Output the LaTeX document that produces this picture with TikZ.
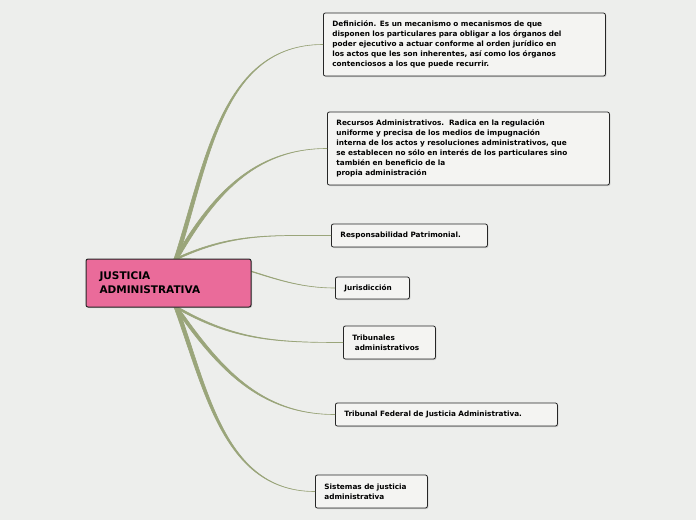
\documentclass[tikz,border=0pt]{standalone}
\usepackage{fontspec}
\setmainfont{DejaVu Sans}
\usetikzlibrary{shadows,calc}
\hyphenpenalty=10000
\exhyphenpenalty=10000
\definecolor{bg}{HTML}{EDEEEC}
\definecolor{br}{HTML}{9AA57A}
\definecolor{pinkc}{HTML}{EA6B9A}
\definecolor{boxf}{HTML}{F4F4F2}
\tikzset{
  box/.style={draw=black!85, line width=0.8pt, fill=boxf, rounded corners=2pt,
    drop shadow={shadow xshift=1pt,shadow yshift=-1pt,opacity=0.35},
    font=\fontsize{7.3}{10}\selectfont\bfseries, align=left, inner xsep=9pt, inner ysep=0pt, anchor=west},
  branch/.style={fill=br, draw=br, line width=0.6pt}
}
\begin{document}
\begin{tikzpicture}[x=1pt,y=-1pt]
\fill[bg] (0,0) rectangle (696,520);
\useasboundingbox (0,0) rectangle (696,520);
\coordinate (ct1) at (176,259);
\coordinate (cb1) at (176,307);
% boxes
\node[box, text width=264pt, minimum height=63pt] (n1) at (323,44.5) {Definición. Es un mecanismo o mecanismos de que\\disponen los particulares para obligar a los órganos del\\poder ejecutivo a actuar conforme al orden jurídico en\\los actos que les son inherentes, así como los órganos\\contenciosos a los que puede recurrir.};
\node[box, text width=264pt, minimum height=73pt] (n2) at (327,148.5) {Recursos Administrativos.\ \ Radica en la regulación\\uniforme y precisa de los medios de impugnación\\interna de los actos y resoluciones administrativos, que\\se establecen no sólo en interés de los particulares sino\\también en beneficio de la\\propia administración};
\node[box, minimum height=23pt, text width=138pt] (n3) at (331,235.5) {Responsabilidad Patrimonial.};
\node[box, minimum height=22pt, text width=56pt] (n4) at (335,288) {Jurisdicción};
\node[box, minimum height=33pt, text width=74pt] (n5) at (343,342.5) {Tribunales\\\ administrativos};
\node[box, minimum height=23pt, text width=204pt] (n6) at (335,414.5) {Tribunal Federal de Justicia Administrativa.};
\node[box, minimum height=33pt, text width=94pt] (n7) at (315,491.5) {Sistemas de justicia\\administrativa};
% branches
\foreach \n/\o in {n1/72,n2/60,n3/25,n4/2} {
  \fill[branch] ($(ct1)+(-2,0)$) to[out=\o,in=180] (\n.west) to[out=180,in=\o] ($(ct1)+(2,0)$) -- cycle;
}
\foreach \n/\o in {n5/-30,n6/-55,n7/-70} {
  \fill[branch] ($(cb1)+(-2,0)$) to[out=\o,in=180] (\n.west) to[out=180,in=\o] ($(cb1)+(2,0)$) -- cycle;
}
% central
\node[draw=black!85, line width=1pt, fill=pinkc, rounded corners=2pt, minimum width=165pt, minimum height=48pt,
  drop shadow={shadow xshift=1pt,shadow yshift=-1pt,opacity=0.35}] (c) at (168.5,283) {};
\node[font=\fontsize{10.5}{14}\selectfont\bfseries, align=left, anchor=west] (ct) at (96,283) {JUSTICIA\\ADMINISTRATIVA};
\end{tikzpicture}
\end{document}
